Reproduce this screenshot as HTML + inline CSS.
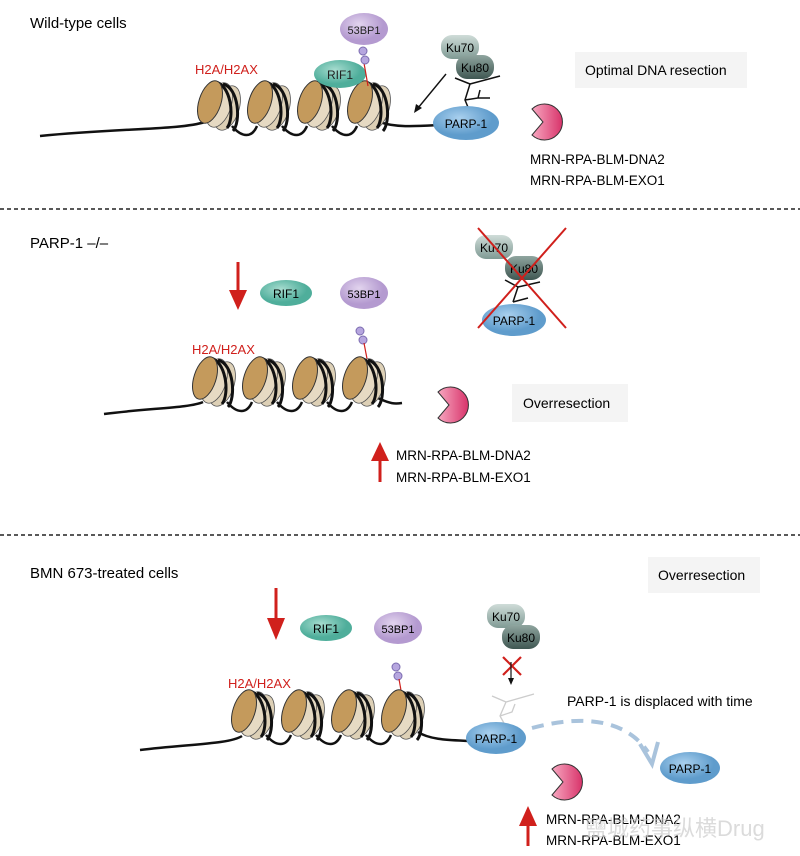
<!DOCTYPE html>
<html><head><meta charset="utf-8"><style>
html,body{margin:0;padding:0;background:#fff}
svg{display:block}
text{font-family:"Liberation Sans",Arial,sans-serif}
</style></head><body>
<svg width="800" height="856" viewBox="0 0 800 856" xmlns="http://www.w3.org/2000/svg">
<defs>
<linearGradient id="pink" x1="0" x2="1"><stop offset="0" stop-color="#f7a7c0"/><stop offset="1" stop-color="#d8336a"/></linearGradient>
<radialGradient id="blue" cx="0.4" cy="0.35"><stop offset="0" stop-color="#a9d0ee"/><stop offset="1" stop-color="#5f9ccc"/></radialGradient>
<radialGradient id="teal" cx="0.4" cy="0.35"><stop offset="0" stop-color="#a6dccf"/><stop offset="1" stop-color="#4fae9b"/></radialGradient>
<radialGradient id="lav" cx="0.4" cy="0.35"><stop offset="0" stop-color="#e2d4ee"/><stop offset="1" stop-color="#b49ad0"/></radialGradient>
<linearGradient id="ku70" x1="0" y1="0" x2="0" y2="1"><stop offset="0" stop-color="#cfdcd8"/><stop offset="1" stop-color="#7f9a94"/></linearGradient>
<linearGradient id="ku80" x1="0" y1="0" x2="0" y2="1"><stop offset="0" stop-color="#8fa59f"/><stop offset="1" stop-color="#3f5752"/></linearGradient>
<g id="nuc">
  <ellipse cx="10" cy="4" rx="12" ry="23" transform="rotate(18 10 4)" fill="#ddd0b6" stroke="#555" stroke-width="0.8"/>
  <ellipse cx="2" cy="1" rx="12" ry="23" transform="rotate(18 2 1)" fill="#e6dac3" stroke="#555" stroke-width="0.8"/>
  <path d="M-2,-22 C14,-20 18,14 10,24" fill="none" stroke="#111" stroke-width="3"/>
  <path d="M6,-20 C22,-16 24,18 16,27" fill="none" stroke="#111" stroke-width="3"/>
  <ellipse cx="-7" cy="-2" rx="11" ry="22" transform="rotate(18 -7 -2)" fill="#c49a5c" stroke="#333" stroke-width="1"/>
</g>
<g id="nuc4">
  <path d="M15,22 C25,34 35,34 40,22 M65,22 C75,34 85,34 90,22 M115,22 C125,34 135,34 140,22" fill="none" stroke="#111" stroke-width="2.5"/>
  <use href="#nuc" x="0" y="0"/><use href="#nuc" x="50" y="0"/><use href="#nuc" x="100" y="0"/><use href="#nuc" x="150" y="0"/>
</g>
<g id="mrn">
  <path d="M-12,-13 A18,18 0 1 1 -12,13 L-1,0 Z" fill="url(#pink)" stroke="#333" stroke-width="1"/>
</g>
</defs>

<!-- Section 1 -->
<text x="30" y="28" font-size="15">Wild-type cells</text>
<text x="195" y="74" font-size="13" fill="#d0201c">H2A/H2AX</text>
<path d="M40,136 C120,128 180,130 205,122" fill="none" stroke="#111" stroke-width="2.5"/>
<path d="M380,122 C395,128 420,126 440,125" fill="none" stroke="#111" stroke-width="2.5"/>
<use href="#nuc4" x="217" y="104"/>
<ellipse cx="340" cy="74" rx="26" ry="14" fill="url(#teal)"/>
<text x="340" y="79" font-size="12" text-anchor="middle" fill="#222">RIF1</text>
<line x1="364" y1="63" x2="368" y2="86" stroke="#d0201c" stroke-width="1.2"/>
<circle cx="363" cy="51" r="4" fill="#b6a6df" stroke="#7b6bb0"/><circle cx="365" cy="60" r="4" fill="#b6a6df" stroke="#7b6bb0"/>
<ellipse cx="364" cy="29" rx="24" ry="16" fill="url(#lav)"/>
<text x="364" y="34" font-size="11" text-anchor="middle" fill="#222">53BP1</text>
<rect x="441" y="35" width="38" height="24" rx="11" fill="url(#ku70)"/>
<text x="460" y="52" font-size="12" text-anchor="middle">Ku70</text>
<rect x="456" y="55" width="38" height="24" rx="11" fill="url(#ku80)"/>
<text x="475" y="72" font-size="12" text-anchor="middle">Ku80</text>
<path d="M455,78 L470,84 L465,100 L470,112 M465,100 L478,98 L480,90 M470,84 L500,76 M478,98 L490,98" fill="none" stroke="#111" stroke-width="1.5"/>
<line x1="446" y1="74" x2="418" y2="108" stroke="#111" stroke-width="1.4"/>
<path d="M414,113 L416,104 L422,108 Z" fill="#111"/>
<ellipse cx="466" cy="123" rx="33" ry="17" fill="url(#blue)"/>
<text x="466" y="128" font-size="12" text-anchor="middle">PARP-1</text>
<rect x="575" y="52" width="172" height="36" fill="#f4f4f4"/>
<text x="585" y="75" font-size="14">Optimal DNA resection</text>
<use href="#mrn" x="544" y="122"/>
<text x="530" y="164" font-size="13.5">MRN-RPA-BLM-DNA2</text>
<text x="530" y="185" font-size="13.5">MRN-RPA-BLM-EXO1</text>
<line x1="0" y1="209" x2="800" y2="209" stroke="#222" stroke-width="1.5" stroke-dasharray="4,3"/>

<!-- Section 2 -->
<text x="30" y="248" font-size="15">PARP-1 –/–</text>
<line x1="238" y1="262" x2="238" y2="297" stroke="#d0201c" stroke-width="3"/>
<path d="M229,290 L247,290 L238,310 Z" fill="#d0201c"/>
<ellipse cx="286" cy="293" rx="26" ry="13" fill="url(#teal)"/>
<text x="286" y="298" font-size="12" text-anchor="middle">RIF1</text>
<ellipse cx="364" cy="293" rx="24" ry="16" fill="url(#lav)"/>
<text x="364" y="298" font-size="11" text-anchor="middle">53BP1</text>
<circle cx="360" cy="331" r="4" fill="#b6a6df" stroke="#7b6bb0"/><circle cx="363" cy="340" r="4" fill="#b6a6df" stroke="#7b6bb0"/>
<line x1="364" y1="343" x2="368" y2="364" stroke="#d0201c" stroke-width="1.2"/>
<text x="192" y="354" font-size="13" fill="#d0201c">H2A/H2AX</text>
<path d="M104,414 C150,408 190,408 203,402" fill="none" stroke="#111" stroke-width="2.5"/>
<path d="M378,398 C390,404 395,404 402,403" fill="none" stroke="#111" stroke-width="2.5"/>
<use href="#nuc4" x="212" y="380"/>
<rect x="475" y="235" width="38" height="24" rx="11" fill="url(#ku70)"/>
<text x="494" y="252" font-size="12" text-anchor="middle">Ku70</text>
<rect x="505" y="256" width="38" height="24" rx="11" fill="url(#ku80)"/>
<text x="524" y="273" font-size="12" text-anchor="middle">Ku80</text>
<path d="M505,280 L518,287 L513,302 M513,302 L528,298 M518,287 L540,282" fill="none" stroke="#111" stroke-width="1.5"/>
<ellipse cx="514" cy="320" rx="32" ry="16" fill="url(#blue)"/>
<text x="514" y="325" font-size="12" text-anchor="middle">PARP-1</text>
<line x1="478" y1="228" x2="566" y2="328" stroke="#d0201c" stroke-width="2"/>
<line x1="566" y1="228" x2="478" y2="328" stroke="#d0201c" stroke-width="2"/>
<use href="#mrn" x="450" y="405"/>
<rect x="512" y="384" width="116" height="38" fill="#f4f4f4"/>
<text x="523" y="408" font-size="14">Overresection</text>
<line x1="380" y1="482" x2="380" y2="455" stroke="#d0201c" stroke-width="3"/>
<path d="M371,461 L389,461 L380,442 Z" fill="#d0201c"/>
<text x="396" y="460" font-size="13.5">MRN-RPA-BLM-DNA2</text>
<text x="396" y="482" font-size="13.5">MRN-RPA-BLM-EXO1</text>
<line x1="0" y1="535" x2="800" y2="535" stroke="#222" stroke-width="1.5" stroke-dasharray="4,3"/>

<!-- Section 3 -->
<text x="30" y="578" font-size="15">BMN 673-treated cells</text>
<rect x="648" y="557" width="112" height="36" fill="#f4f4f4"/>
<text x="658" y="580" font-size="14">Overresection</text>
<line x1="276" y1="588" x2="276" y2="625" stroke="#d0201c" stroke-width="3"/>
<path d="M267,618 L285,618 L276,640 Z" fill="#d0201c"/>
<ellipse cx="326" cy="628" rx="26" ry="13" fill="url(#teal)"/>
<text x="326" y="633" font-size="12" text-anchor="middle">RIF1</text>
<ellipse cx="398" cy="628" rx="24" ry="16" fill="url(#lav)"/>
<text x="398" y="633" font-size="11" text-anchor="middle">53BP1</text>
<circle cx="396" cy="667" r="4" fill="#b6a6df" stroke="#7b6bb0"/><circle cx="398" cy="676" r="4" fill="#b6a6df" stroke="#7b6bb0"/>
<line x1="399" y1="679" x2="402" y2="696" stroke="#d0201c" stroke-width="1.2"/>
<text x="228" y="688" font-size="13" fill="#d0201c">H2A/H2AX</text>
<path d="M140,750 C190,744 230,744 242,736" fill="none" stroke="#111" stroke-width="2.5"/>
<path d="M418,732 C430,740 450,740 470,741" fill="none" stroke="#111" stroke-width="2.5"/>
<use href="#nuc4" x="251" y="713"/>
<rect x="487" y="604" width="38" height="24" rx="11" fill="url(#ku70)"/>
<text x="506" y="621" font-size="12" text-anchor="middle">Ku70</text>
<rect x="502" y="625" width="38" height="24" rx="11" fill="url(#ku80)"/>
<text x="521" y="642" font-size="12" text-anchor="middle">Ku80</text>
<line x1="503" y1="657" x2="521" y2="675" stroke="#d0201c" stroke-width="2.2"/>
<line x1="521" y1="657" x2="503" y2="675" stroke="#d0201c" stroke-width="2.2"/>
<line x1="511" y1="662" x2="511" y2="680" stroke="#111" stroke-width="1.2"/>
<path d="M508,678 L514,678 L511,685 Z" fill="#111"/>
<path d="M492,696 L506,702 L500,716 L505,725 M500,716 L512,712 L515,704 M506,702 L534,694" fill="none" stroke="#ccc" stroke-width="1.3"/>
<ellipse cx="496" cy="738" rx="30" ry="16" fill="url(#blue)"/>
<text x="496" y="743" font-size="12" text-anchor="middle">PARP-1</text>
<path d="M532,728 C580,715 625,718 648,752" fill="none" stroke="#a9c3dc" stroke-width="4" stroke-dasharray="12,8"/>
<path d="M640,744 L652,764 L658,742" fill="none" stroke="#a9c3dc" stroke-width="4"/>
<text x="567" y="706" font-size="14">PARP-1 is displaced with time</text>
<ellipse cx="690" cy="768" rx="30" ry="16" fill="url(#blue)"/>
<text x="690" y="773" font-size="12" text-anchor="middle">PARP-1</text>
<use href="#mrn" x="564" y="782"/>
<line x1="528" y1="846" x2="528" y2="820" stroke="#d0201c" stroke-width="3"/>
<path d="M519,826 L537,826 L528,806 Z" fill="#d0201c"/>
<text x="546" y="824" font-size="13.5">MRN-RPA-BLM-DNA2</text>
<text x="546" y="845" font-size="13.5">MRN-RPA-BLM-EXO1</text>
<text x="585" y="836" font-size="22" fill="#ccc" opacity="0.7" font-family="Liberation Sans, Noto Sans CJK SC, sans-serif">鹽城药事纵横Drug</text>
</svg>
</body></html>
